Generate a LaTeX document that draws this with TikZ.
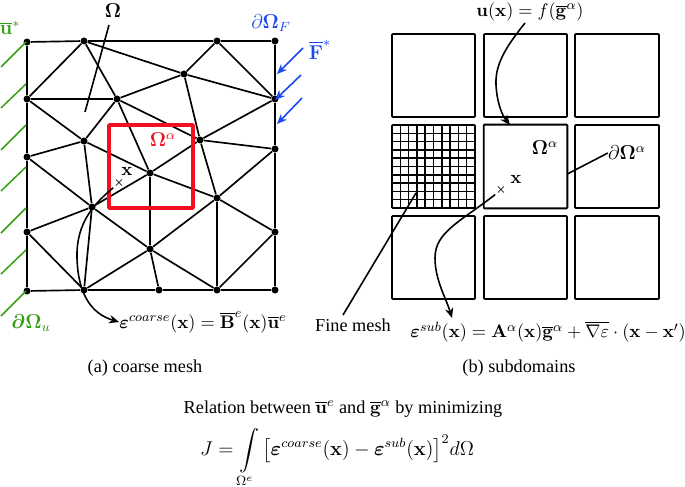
\documentclass[11pt,tikz,border=0pt]{standalone}
\usepackage{amsmath}
\usepackage{amssymb}
\usepackage[no-math]{fontspec}
\setmainfont{Liberation Serif}
\usetikzlibrary{arrows.meta}
\definecolor{fixgreen}{RGB}{52,160,20}
\definecolor{loadblue}{RGB}{28,72,240}
\definecolor{domainred}{RGB}{240,16,32}
\tikzset{
    meshdot/.style={circle, fill=black, inner sep=0pt, minimum size=7pt*0.6},
    edge/.style={black, line width=1pt},
    sub/.style={black, line width=1.1pt, rounded corners=0.5pt},
    hatch/.style={fixgreen, line width=0.9pt},
    load/.style={loadblue, line width=0.95pt, -{Stealth[length=6pt,width=5pt]}},
    lead/.style={black, line width=0.95pt},
    leadarrow/.style={black, line width=0.95pt, -{Stealth[length=6pt,width=5pt]}},
    crossmark/.style={inner sep=0pt, font=\tiny},
    txt/.style={inner sep=0pt}
}
\begin{document}
\begin{tikzpicture}[x=0.6pt, y=-0.6pt]
    \useasboundingbox (0,0) rectangle (685,487);

    % Coarse mesh points
    \node[meshdot] (A1) at (27,42) {};
    \node[meshdot] (A2) at (84,41) {};
    \node[meshdot] (A3) at (217,41) {};
    \node[meshdot] (A4) at (275,41) {};
    \node[meshdot] (B1) at (27,99) {};
    \node[meshdot] (B2) at (117,99) {};
    \node[meshdot] (B3) at (184,74) {};
    \node[meshdot] (B4) at (275,99) {};
    \node[meshdot] (C1) at (27,157) {};
    \node[meshdot] (C2) at (84,141) {};
    \node[meshdot] (C3) at (200,140) {};
    \node[meshdot] (C4) at (275,149) {};
    \node[meshdot] (D1) at (92,207) {};
    \node[meshdot] (D2) at (150,173) {};
    \node[meshdot] (D3) at (217,198) {};
    \node[meshdot] (E1) at (27,232) {};
    \node[meshdot] (E2) at (150,249) {};
    \node[meshdot] (E3) at (275,232) {};
    \node[meshdot] (F1) at (27,291) {};
    \node[meshdot] (F2) at (84,290) {};
    \node[meshdot] (F3) at (159,290) {};
    \node[meshdot] (F4) at (217,290) {};
    \node[meshdot] (F5) at (275,290) {};

    % Draw mesh edges
    \draw[edge] (A1) -- (A2) -- (A3) -- (A4) -- (B4) -- (C4) -- (E3) -- (F5);
    \draw[edge] (A1) -- (B1) -- (C1) -- (E1) -- (F1) -- (F2) -- (F3) -- (F4) -- (F5);
    \draw[edge] (A2) -- (B1) -- (B2) -- (A2) -- (B3) -- (A3) -- (B4) -- (B3) -- (B2);
    \draw[edge] (B3) -- (C3) -- (D3);
    \draw[edge] (C3) -- (B2) -- (D2) -- (C2) -- (B2);
    \draw[edge] (B1) -- (C2) -- (C1) -- (D1) -- (C2);
    \draw[edge] (D1) -- (F2) -- (E1) -- (D1) -- (D2) -- (C3) -- (B4);
    \draw[edge] (C3) -- (C4) -- (D3) -- (E3) -- (F4) -- (D3) -- (D2) -- (E2) -- (F3);
    \draw[edge] (D1) -- (E2) -- (F2);
    \draw[edge] (F4) -- (E2) -- (D3);

    % Red subdomain
    \draw[domainred, line width=2.3pt, rounded corners=0.5pt] (109,125) rectangle (193,208);
    \node[txt, domainred] (omegared) at (163,140) {\large$\mathbf{\Omega}^{\alpha}$};

    % Fixed edge
    \coordinate (H1) at (1,67);
    \coordinate (H2) at (1,108);
    \coordinate (H3) at (1,150);
    \coordinate (H4) at (1,191);
    \coordinate (H5) at (1,233);
    \coordinate (H6) at (1,274);
    \coordinate (H7) at (1,316);
    \draw[hatch] (H1) -- (26,42);
    \draw[hatch] (H2) -- (26,84);
    \draw[hatch] (H3) -- (26,125);
    \draw[hatch] (H4) -- (26,167);
    \draw[hatch] (H5) -- (26,208);
    \draw[hatch] (H6) -- (26,250);
    \draw[hatch] (H7) -- (26,291);
    \node[txt, fixgreen] (ustar) at (10,28) {\large$\overline{\mathbf{u}}^{*}$};
    \node[txt, fixgreen] (domu) at (31,323) {\large$\boldsymbol{\partial}\mathbf{\Omega}_{u}$};

    % Loads
    \coordinate (L1) at (303,48);
    \coordinate (L2) at (301,75);
    \coordinate (L3) at (302,98);
    \draw[load] (L1) -- (277,74);
    \draw[load] (L2) -- (275,100);
    \draw[load] (L3) -- (277,124);
    \node[txt, loadblue] (domf) at (271,23) {\large$\partial\mathbf{\Omega}_{F}$};
    \node[txt, loadblue] (fstar) at (320,50) {\large$\overline{\mathbf{F}}^{*}$};

    % Labels coarse mesh
    \node[txt] (omega) at (113,11) {\large$\mathbf{\Omega}$};
    \coordinate (omegaend) at (85,112);
    \draw[lead] (109,25) -- (omegaend);
    \node[txt] (xcoarse) at (127,171) {$\mathbf{x}$};
    \node[crossmark] (crosscoarse) at (119,183) {$\boldsymbol{\times}$};
    \node[txt] (ecoarse) at (203,322) {$\boldsymbol{\varepsilon}^{coarse}(\mathbf{x})=\overline{\mathbf{B}}^{e}(\mathbf{x})\overline{\mathbf{u}}^{e}$};
    \draw[leadarrow] (crosscoarse) .. controls (95,203) and (76,222) .. (77,258)
        .. controls (78,295) and (92,314) .. (ecoarse.west);

    % Subdomains
    \draw[sub] (392,34) rectangle (475,117);
    \draw[sub] (484,34) rectangle (567,117);
    \draw[sub] (575,34) rectangle (659,117);
    \draw[sub] (392,125) rectangle (475,208);
    \node[inner sep=0pt, minimum width=83*0.6pt, minimum height=83*0.6pt] (center) at (525.5,166.5) {};
    \draw[sub] (center.north west) rectangle (center.south east);
    \draw[sub] (575,125) rectangle (659,208);
    \draw[sub] (392,216) rectangle (475,299);
    \draw[sub] (484,216) rectangle (567,299);
    \draw[sub] (575,216) rectangle (659,299);

    % Fine mesh
    \foreach \i in {1,...,9} {
        \draw[black, line width=0.85pt] (392+\i*8.3,125) -- (392+\i*8.3,208);
        \draw[black, line width=0.85pt] (392,125+\i*8.3) -- (475,125+\i*8.3);
    }

    % Labels subdomains
    \node[txt] (ux) at (530,12) {$\mathbf{u}(\mathbf{x})=f(\overline{\mathbf{g}}^{\alpha})$};
    \coordinate (uxstart) at (525,23);
    \coordinate (uxend) at (510,125);
    \draw[leadarrow] (uxstart) .. controls (505,48) and (495,65) .. (496,85)
        .. controls (497,103) and (502,115) .. (uxend);
    \node[txt] (omegasub) at (545,148) {\large$\mathbf{\Omega}^{\alpha}$};
    \node[txt] (domsub) at (627,153) {\large$\partial\mathbf{\Omega}^{\alpha}$};
    \draw[lead] (center.east |- 0,174) -- (domsub.west);
    \node[txt] (xsub) at (516,179) {$\mathbf{x}$};
    \node[crossmark] (crosssub) at (501,190) {$\boldsymbol{\times}$};
    \coordinate (finestart) at (416,193);
    \node[txt, anchor=center] (finelabel) at (353,325) {Fine mesh};
    \draw[lead] (finestart) -- (343,315);
    \node[txt] (esub) at (548,332) {$\boldsymbol{\varepsilon}^{sub}(\mathbf{x})=\mathbf{A}^{\alpha}(\mathbf{x})\overline{\mathbf{g}}^{\alpha}+\overline{\nabla\varepsilon}\cdot(\mathbf{x}-\mathbf{x}')$};
    \coordinate (esubend) at (452,318);
    \draw[leadarrow] (crosssub) .. controls (460,222) and (435,232) .. (435,258)
        .. controls (435,280) and (446,298) .. (esubend);

    % Captions
    \node[txt] (capa) at (145,368) {(a) coarse mesh};
    \node[txt] (capb) at (519,368) {(b) subdomains};
    \node[txt] (relation) at (343,409) {Relation between $\overline{\mathbf{u}}^{e}$ and $\overline{\mathbf{g}}^{\alpha}$ by minimizing};
    \node[txt, font=\large] (jfunc) at (337,458) {$\displaystyle J=\int\limits_{\Omega^{e}}\left[\boldsymbol{\varepsilon}^{coarse}(\mathbf{x})-\boldsymbol{\varepsilon}^{sub}(\mathbf{x})\right]^{2}\!d\Omega$};
\end{tikzpicture}
\end{document}
